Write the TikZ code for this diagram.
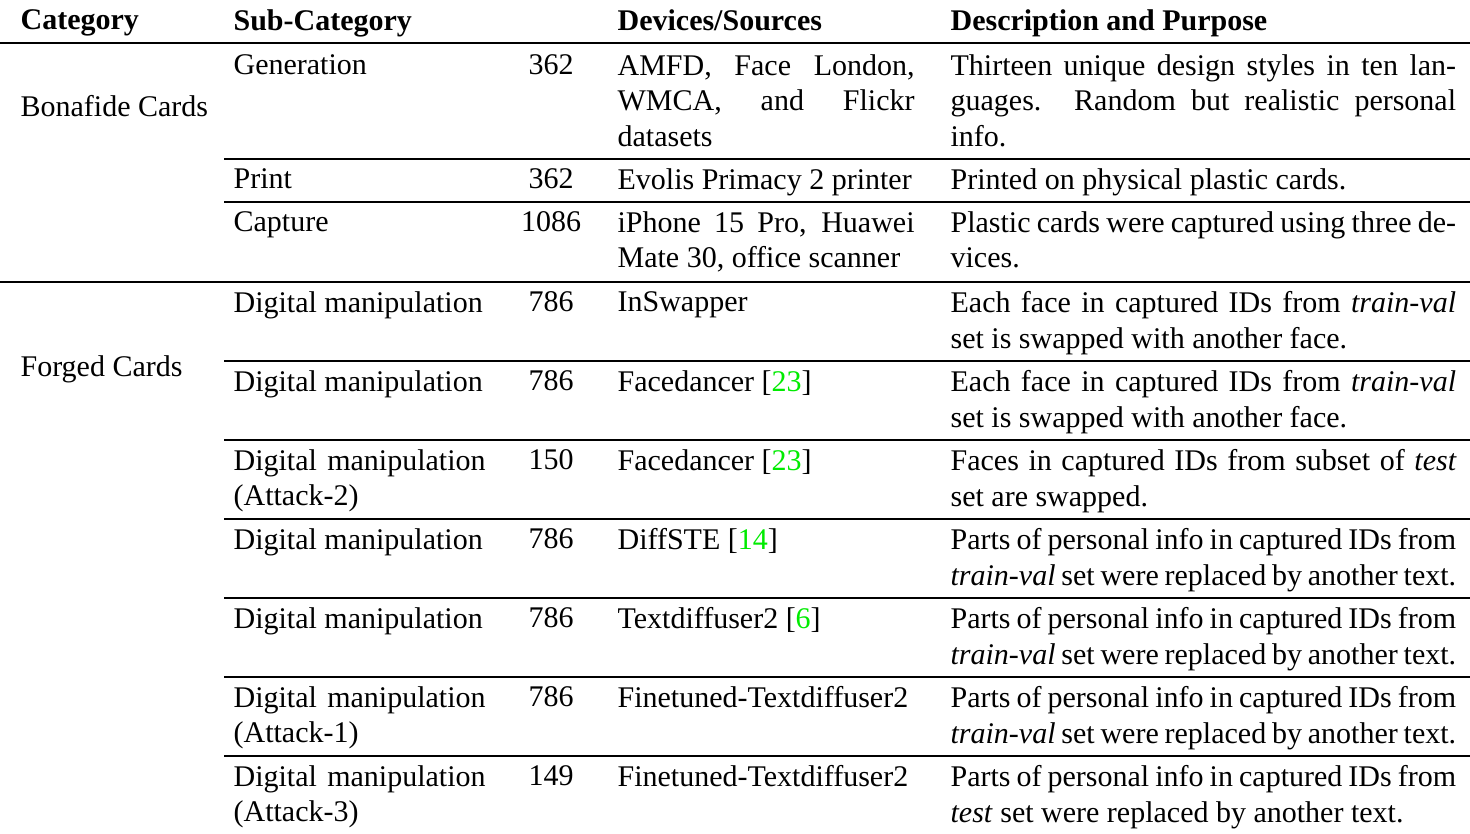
\documentclass[tikz,border=0pt]{standalone}
\usepackage{fontspec}
\setmainfont{Liberation Serif}
\definecolor{citegreen}{RGB}{0,235,0}
\newcommand{\cit}[1]{[\textcolor{citegreen}{#1}]}
\begin{document}
\begin{tikzpicture}[x=0.33333pt,y=-0.33333pt,
  txt/.style={anchor=north west,inner sep=0pt,font=\fontsize{10}{11.83}\selectfont},
  hdr/.style={txt,font=\fontsize{10}{11.83}\selectfont\bfseries},
  num/.style={anchor=north,inner sep=0pt,font=\fontsize{10}{11.83}\selectfont},
  sub/.style={txt,text width=84pt,align=justify},
  dev/.style={txt,text width=99pt,align=justify},
  desc/.style={txt,text width=168.5pt,align=justify},
  thinrule/.style={line width=0.45pt}]
\useasboundingbox (0,0) rectangle (1470,833);
\draw[thinrule] (0,43) coordinate (h0) -- (1470,43) coordinate (h1);
\foreach \yy in {159,202,361,440,519,598,677,756}{\draw[thinrule] (224,\yy) -- (1470,\yy);}
\draw[thinrule] (0,282) coordinate (m0) -- (1470,282) coordinate (m1);
% header
\node[hdr] (h1) at (20,9) {Category};
\node[hdr] (h2) at (233,9) {Sub-Category};
\node[hdr] (h3) at (617,9) {Devices/Sources};
\node[hdr] (h4) at (950,9) {Description and Purpose};
% category
\node[txt] (c1) at (20,95) {Bonafide Cards};
\node[txt] (c2) at (20,355) {Forged Cards};
% rows
\newcommand{\trow}[6]{%
 \node[sub] (s#1) at (233,#2) {#3};
 \node[num] (n#1) at (551,#2) {#4};
 \node[dev] (d#1) at (617,#2) {#5};
 \node[desc] (e#1) at (950,#2) {#6};}
\trow{1}{54}{Generation}{362}{AMFD, Face London, WMCA, and Flickr datasets}{Thirteen unique design styles in ten lan-\linebreak guages. Random but realistic personal info.}
\trow{2}{168}{Print}{362}{Evolis Primacy 2 printer}{Printed on physical plastic cards.}
\trow{3}{211}{Capture}{1086}{iPhone 15 Pro, Huawei Mate 30, office scanner}{Plastic cards were captured using three de-\linebreak vices.}
\trow{4}{291}{Digital manipulation}{786}{InSwapper}{Each face in captured IDs from \textit{train-val} set is swapped with another face.}
\trow{5}{370}{Digital manipulation}{786}{Facedancer \cit{23}}{Each face in captured IDs from \textit{train-val} set is swapped with another face.}
\trow{6}{449}{Digital manipulation (Attack-2)}{150}{Facedancer \cit{23}}{Faces in captured IDs from subset of \textit{test} set are swapped.}
\trow{7}{528}{Digital manipulation}{786}{DiffSTE \cit{14}}{Parts of personal info in captured IDs from \textit{train-val} set were replaced by another text.}
\trow{8}{607}{Digital manipulation}{786}{Textdiffuser2 \cit{6}}{Parts of personal info in captured IDs from \textit{train-val} set were replaced by another text.}
\trow{9}{686}{Digital manipulation (Attack-1)}{786}{Finetuned-Textdiffuser2}{Parts of personal info in captured IDs from \textit{train-val} set were replaced by another text.}
\trow{10}{765}{Digital manipulation (Attack-3)}{149}{Finetuned-Textdiffuser2}{Parts of personal info in captured IDs from \textit{test} set were replaced by another text.}
\end{tikzpicture}
\end{document}
